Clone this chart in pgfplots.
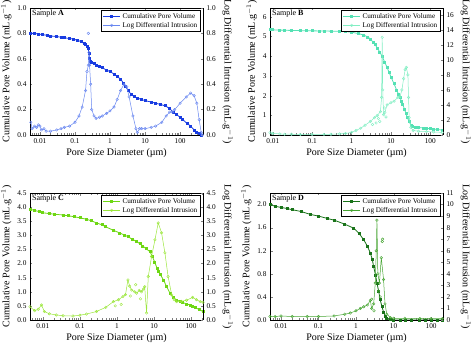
\documentclass[border=0pt]{standalone}
\usepackage{pgfplots}
\pgfplotsset{compat=1.18}
\usepackage{fontspec}
\setmainfont{Liberation Serif}
\definecolor{cA}{RGB}{25,60,225}
\definecolor{lA}{RGB}{105,135,240}
\definecolor{cB}{RGB}{85,225,180}
\definecolor{lB}{RGB}{130,238,195}
\definecolor{cC}{RGB}{110,215,20}
\definecolor{lC}{RGB}{155,230,60}
\definecolor{cD}{RGB}{25,115,25}
\definecolor{lD}{RGB}{70,165,50}
\pgfplotsset{
  every axis/.append style={scale only axis, width=173pt, height=127pt,
    tick label style={font=\fontsize{7.3}{8}\selectfont},
    label style={font=\fontsize{10}{11}\selectfont},
    /pgf/number format/assume math mode=true,
    tick align=inside, major tick length=2.5pt, minor tick length=1.5pt,
    axis line style={line width=0.5pt}},
  myleft/.style={axis y line*=left,
    xlabel={Pore Size Diameter (µm)},
    ylabel={Cumulative Pore Volume (mL.g$^{-1}$)},
    ylabel style={yshift=-1pt},
    xlabel style={yshift=2pt},
    xtick={0.01,0.1,1,10,100}, xticklabels={0.01,0.1,1,10,100},
    minor xtick={0.003,0.004,0.005,0.006,0.007,0.008,0.009,0.02,0.03,0.04,0.05,0.06,0.07,0.08,0.09,0.2,0.3,0.4,0.5,0.6,0.7,0.8,0.9,2,3,4,5,6,7,8,9,20,30,40,50,60,70,80,90,200,300,400},
    legend style={at={(0.985,0.985)}, anchor=north east, font=\fontsize{7.2}{8}\selectfont,
      inner sep=1pt, row sep=-1.5pt, draw=black, line width=0.4pt},
    legend cell align=left},
  myright/.style={axis y line*=right, axis x line=none,
    ylabel={Log Differential Intrusion (mL.g$^{-1}$)},
    ylabel style={rotate=180}},
  onedec/.style={yticklabel style={/pgf/number format/fixed, /pgf/number format/fixed zerofill, /pgf/number format/precision=1}},
}
\tikzset{
  mycum/.style={line width=0.8pt, mark=square*, mark size=1.0pt},
  myldi/.style={line width=0.5pt, mark=o, mark size=1.3pt, mark options={line width=0.4pt}},
}
\newcommand{\samp}[1]{\node[anchor=north west, inner sep=1pt, font=\fontsize{8}{9}\selectfont] at (rel axis cs:0.005,0.995) {Sample \textbf{#1}};}
\begin{document}
\begin{tikzpicture}
\path[use as bounding box] (0,0) rectangle (474pt,345pt);
% ---------------- Sample A
\begin{axis}[xmode=log, myleft, at={(30pt,210pt)}, anchor=south west, xmin=0.0052, xmax=450, ymin=0, ymax=1,
  ytick={0,0.2,0.4,0.6,0.8,1.0}, onedec]
\addplot[mycum, color=cA] coordinates {
(0.0055,0.80)(0.007,0.80)(0.009,0.795)(0.012,0.79)(0.016,0.785)(0.02,0.78)(0.03,0.775)(0.04,0.77)
(0.05,0.765)(0.07,0.76)(0.09,0.755)(0.12,0.745)(0.15,0.735)(0.18,0.72)(0.2,0.71)(0.22,0.70)
(0.24,0.68)(0.25,0.64)(0.26,0.60)(0.28,0.58)(0.3,0.57)(0.35,0.56)(0.4,0.55)(0.5,0.54)(0.6,0.53)
(0.8,0.51)(1.0,0.50)(1.3,0.48)(1.6,0.46)(2.0,0.44)(2.4,0.41)(2.8,0.38)(3.3,0.35)(4.0,0.32)
(5.0,0.30)(6.0,0.29)(8.0,0.28)(10,0.27)(15,0.26)(20,0.25)(28,0.24)(37,0.23)(50,0.21)(63,0.18)
(80,0.16)(100,0.14)(120,0.12)(160,0.09)(200,0.07)(250,0.04)(300,0.02)(350,0.01)(400,0.0)};
\addlegendentry{Cumulative Pore Volume}
\addlegendimage{myldi, color=lA}
\addlegendentry{Log Differential Intrusion}
\samp{A}
\end{axis}
\begin{axis}[xmode=log, myright, at={(30pt,210pt)}, anchor=south west, xmin=0.0052, xmax=450, ymin=0, ymax=1,
  ytick={0,0.2,0.4,0.6,0.8,1.0}, onedec]
\addplot[myldi, color=lA] coordinates {
(0.0055,0.10)(0.006,0.05)(0.007,0.07)(0.008,0.06)(0.009,0.08)(0.010,0.07)(0.011,0.04)(0.013,0.05)
(0.015,0.03)(0.02,0.03)(0.03,0.04)(0.04,0.05)(0.05,0.06)(0.07,0.07)(0.1,0.10)(0.13,0.15)(0.16,0.22)
(0.2,0.35)(0.22,0.50)(0.24,0.55)(0.25,0.65)(0.26,0.55)(0.28,0.40)(0.3,0.20)(0.35,0.15)(0.4,0.13)
(0.5,0.14)(0.6,0.15)(0.8,0.17)(1.0,0.19)(1.3,0.22)(1.6,0.28)(2.0,0.35)(2.5,0.40)(3.0,0.38)(3.5,0.30)
(4.5,0.15)(5.5,0.05)(6.0,0.02)(7,0.05)(8,0.05)(10,0.05)(15,0.06)(20,0.07)(30,0.10)(40,0.15)(50,0.18)
(60,0.18)(70,0.20)(100,0.25)(150,0.30)(200,0.33)(250,0.31)(300,0.25)(350,0.12)(400,0.02)(430,0.0)};
\addplot[myldi, color=lA, only marks] coordinates {(0.24,0.80)};
\end{axis}
% ---------------- Sample B
\begin{axis}[xmode=log, myleft, at={(270pt,210pt)}, anchor=south west, xmin=0.0085, xmax=210, ymin=0, ymax=6.45,
  ytick={0,1,2,3,4,5,6}]
\addplot[mycum, color=cB] coordinates {
(0.0085,5.35)(0.01,5.34)(0.015,5.33)(0.02,5.32)(0.03,5.31)(0.05,5.30)(0.07,5.295)(0.1,5.29)(0.15,5.285)
(0.2,5.28)(0.3,5.275)(0.5,5.27)(0.7,5.25)(1.0,5.22)(1.5,5.15)(2.0,5.08)(2.6,4.98)(3.0,4.88)(3.5,4.72)
(4.0,4.58)(4.5,4.42)(5.2,4.22)(6,3.98)(7,3.70)(8,3.42)(9,3.18)(10,2.95)(12,2.60)(14,2.28)(15.5,2.08)
(17,1.90)(18.5,1.72)(20,1.55)(22,1.32)(24,1.10)(26,0.90)(29,0.68)(33,0.48)(36,0.42)(42,0.40)(50,0.38)
(65,0.36)(80,0.34)(100,0.32)(120,0.30)(150,0.28)(200,0.25)};
\addlegendentry{Cumulative Pore Volume}
\addlegendimage{myldi, color=lB}
\addlegendentry{Log Differential Intrusion}
\samp{B}
\end{axis}
\begin{axis}[xmode=log, myright, at={(270pt,210pt)}, anchor=south west, xmin=0.0085, xmax=210, ymin=0, ymax=16.9,
  ytick={0,2,4,6,8,10,12,14,16}]
\addplot[myldi, color=lB] coordinates {
(0.0085,0.3)(0.01,0.2)(0.015,0.15)(0.02,0.1)(0.03,0.1)(0.05,0.08)(0.1,0.08)(0.2,0.08)(0.3,0.1)(0.5,0.15)
(0.7,0.2)(1.0,0.35)(1.3,0.6)(1.7,0.9)(2.2,1.3)(3.0,1.8)(3.8,2.3)(4.5,2.6)(5.4,3.1)(5.8,5)(6.0,13.0)
(6.2,6)(6.5,2.7)(7.0,3.0)(8.0,4.0)(10,4.3)(12,4.5)(15,5.0)(17,5.1)(19,6.0)(21,7.5)(23,8.7)(24.6,9.0)
(27,8.0)(28,5)(29,2.3)(32,1.0)(37,0.6)(50,0.5)(80,0.45)(120,0.4)(200,0.35)};
\addplot[myldi, color=lB, only marks] coordinates {(4.2,1.6)(4.8,2.2)(5.2,1.8)(6.8,3.6)(7.5,2.4)(3.4,1.4)};
\end{axis}
% ---------------- Sample C
\begin{axis}[xmode=log, myleft, at={(30pt,25pt)}, anchor=south west, xmin=0.0045, xmax=210, ymin=0, ymax=4.5,
  ytick={0,0.5,1,1.5,2,2.5,3,3.5,4,4.5}, onedec]
\addplot[mycum, color=cC] coordinates {
(0.0045,3.93)(0.006,3.88)(0.008,3.84)(0.01,3.80)(0.015,3.77)(0.02,3.75)(0.035,3.72)(0.05,3.69)(0.07,3.66)
(0.1,3.62)(0.15,3.57)(0.2,3.52)(0.28,3.44)(0.4,3.37)(0.5,3.30)(0.8,3.18)(1.2,3.08)(1.6,3.01)(2.0,2.95)
(2.6,2.86)(3.4,2.78)(4.2,2.70)(5.0,2.62)(6.2,2.52)(7.8,2.42)(9,2.25)(10.5,2.05)(12,1.84)(13.5,1.72)(15,1.60)
(18,1.42)(22,1.18)(27,0.95)(33,0.80)(41,0.71)(50,0.66)(60,0.62)(75,0.57)(94,0.53)(110,0.48)(130,0.44)
(170,0.36)(210,0.30)};
\addlegendentry{Cumulative Pore Volume}
\addlegendimage{myldi, color=lC}
\addlegendentry{Log Differential Intrusion}
\samp{C}
\end{axis}
\begin{axis}[xmode=log, myright, at={(30pt,25pt)}, anchor=south west, xmin=0.0045, xmax=210, ymin=0, ymax=4.5,
  ytick={0,0.5,1,1.5,2,2.5,3,3.5,4,4.5}, onedec]
\addplot[myldi, color=lC] coordinates {
(0.0045,0.47)(0.006,0.33)(0.0075,0.38)(0.0092,0.53)(0.011,0.30)(0.015,0.22)(0.023,0.18)(0.035,0.15)
(0.065,0.14)(0.1,0.17)(0.15,0.21)(0.28,0.30)(0.5,0.45)(0.8,0.65)(1.1,0.72)(1.45,0.83)(1.7,0.9)(1.98,1.42)
(2.2,1.2)(2.5,1.06)(3.0,1.0)(3.4,0.95)(4.0,1.05)(4.6,1.0)(5.2,1.1)(5.6,1.18)(6.3,0.25)(7,1.54)(8.6,2.25)
(10.6,2.84)(13,3.44)(16,3.09)(19.7,2.38)(24,1.54)(30,0.89)(35,0.72)(41,0.65)(55,0.66)(75,0.70)(110,0.80)
(140,0.72)(177,0.65)(210,0.63)};
\addplot[myldi, color=lC, only marks] coordinates {(2.3,0.85)(3.2,1.25)(4.3,0.75)(1.3,0.55)(0.9,0.5)};
\end{axis}
% ---------------- Sample D
\begin{axis}[xmode=log, myleft, at={(270pt,25pt)}, anchor=south west, xmin=0.0051, xmax=207, ymin=0, ymax=2.2,
  ytick={0,0.4,0.8,1.2,1.6,2.0}, onedec]
\addplot[mycum, color=cD] coordinates {
(0.0051,2.00)(0.007,1.97)(0.01,1.95)(0.015,1.93)(0.02,1.91)(0.034,1.88)(0.06,1.83)(0.1,1.80)(0.17,1.76)
(0.26,1.73)(0.5,1.66)(0.87,1.59)(1.2,1.50)(1.6,1.39)(2.0,1.28)(2.4,1.16)(2.7,1.05)(2.95,0.92)(3.3,0.78)
(3.6,0.64)(4.0,0.50)(4.4,0.35)(4.9,0.23)(5.4,0.14)(6.0,0.07)(6.6,0.03)(8,0.01)(10,0.0)(15,0.0)(20,0.0)
(30,0.0)(50,0.0)(70,0.0)(100,0.0)(150,0.0)(200,0.0)};
\addlegendentry{Cumulative Pore Volume}
\addlegendimage{myldi, color=lD}
\addlegendentry{Log Differential Intrusion}
\samp{D}
\end{axis}
\begin{axis}[xmode=log, myright, at={(270pt,25pt)}, anchor=south west, xmin=0.0051, xmax=207, ymin=0, ymax=11,
  ytick={0,1,2,3,4,5,6,7,8,9,10,11}]
\addplot[myldi, color=lD] coordinates {
(0.0051,0.3)(0.007,0.3)(0.01,0.35)(0.02,0.3)(0.05,0.3)(0.1,0.3)(0.26,0.35)(0.5,0.5)(0.7,0.6)(1.0,0.8)
(1.3,1.0)(1.6,1.15)(2.0,1.3)(2.4,1.7)(2.6,1.0)(2.95,1.4)(3.25,3.2)(3.45,6)(3.6,8.65)(3.8,4.0)(4.2,3.2)
(4.7,5.4)(5.4,3.5)(5.9,1.4)(6.6,0.5)(8.3,0.2)(10,0.15)(20,0.15)(50,0.12)(100,0.12)(200,0.12)};
\addplot[myldi, color=lD, only marks] coordinates {(5.0,6.8)(5.1,7.0)(2.6,1.8)(3.0,0.8)(4.0,2.5)(4.4,2.0)};
\end{axis}
\end{tikzpicture}
\end{document}
